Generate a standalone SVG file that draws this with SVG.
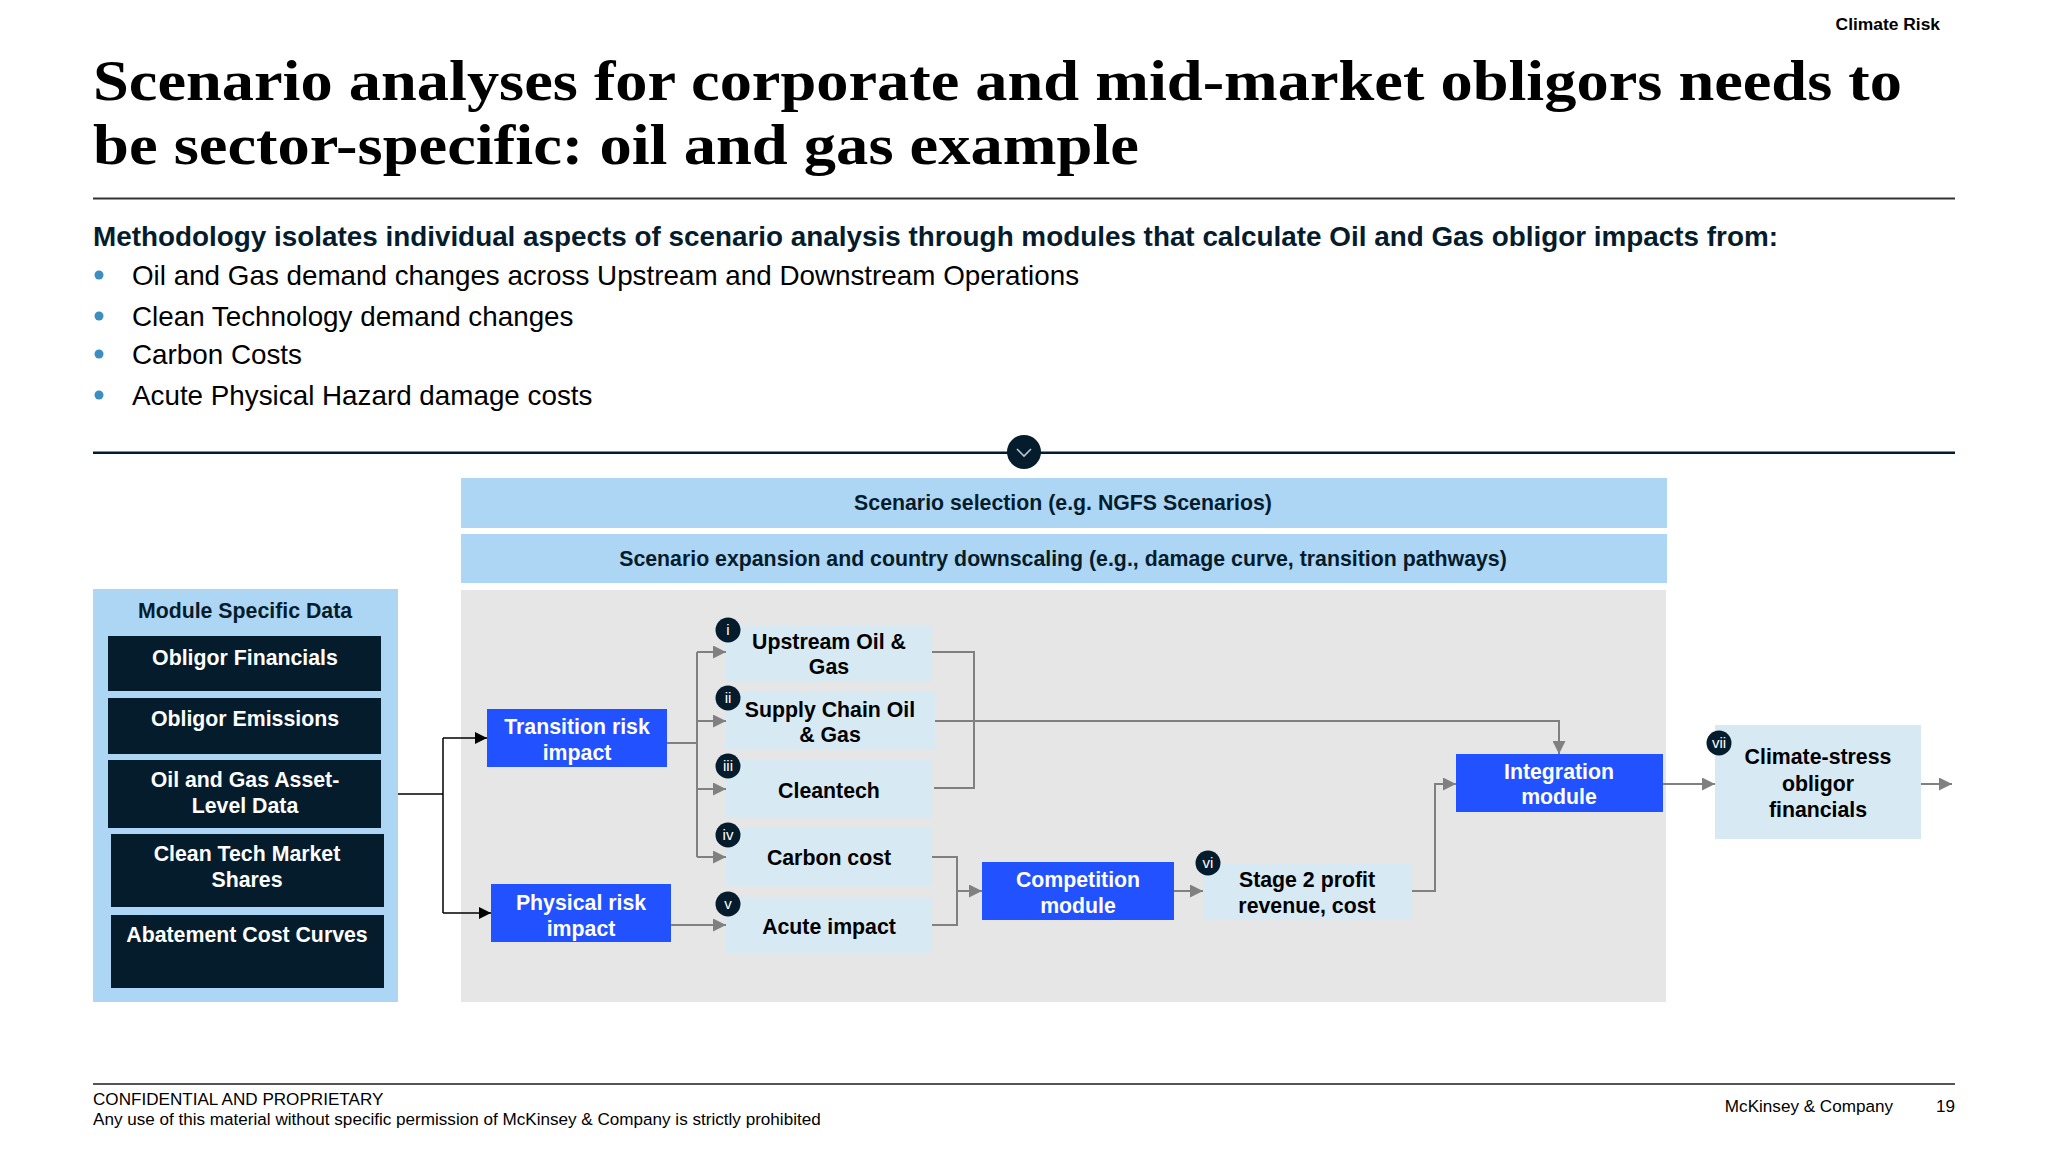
<svg xmlns="http://www.w3.org/2000/svg" width="2048" height="1152" viewBox="0 0 2048 1152">
  <defs>
    <style>
      .sans { font-family: "Liberation Sans", Arial, sans-serif; }
      .title { font-family: "Liberation Serif", "Times New Roman", serif; font-weight: bold; font-size: 57px; fill: #000000; }
      .lightbar { fill: #ADD5F4; }
      .darkbox { fill: #051C2C; }
      .bluebox { fill: #2251FF; }
      .lightbox { fill: #D7E9F2; }
      .wt { font-family: "Liberation Sans", Arial, sans-serif; font-weight: bold; font-size: 21.3px; fill: #FFFFFF; text-anchor: middle; }
      .bt { font-family: "Liberation Sans", Arial, sans-serif; font-weight: bold; font-size: 21.3px; fill: #000000; text-anchor: middle; }
      .bar { font-family: "Liberation Sans", Arial, sans-serif; font-weight: bold; font-size: 21.3px; fill: #051C2C; text-anchor: middle; }
      .bullet { font-family: "Liberation Sans", Arial, sans-serif; font-size: 27.8px; fill: #000000; }
      .dot { fill: #3D8EC0; }
      .badge { fill: #051C2C; }
      .badget { font-family: "Liberation Sans", Arial, sans-serif; font-size: 15px; fill: #FFFFFF; text-anchor: middle; }
      .gline { fill: none; stroke: #808080; stroke-width: 2; }
      .kline { fill: none; stroke: #000000; stroke-width: 1.5; }
      .foot { font-family: "Liberation Sans", Arial, sans-serif; font-size: 17.1px; fill: #000000; }
    </style>
    <marker id="ga" viewBox="0 0 10 10" refX="10" refY="5" markerUnits="userSpaceOnUse" markerWidth="14" markerHeight="13" orient="auto">
      <path d="M0,0 L10,5 L0,10 Z" fill="#808080"/>
    </marker>
    <marker id="ka" viewBox="0 0 10 10" refX="10" refY="5" markerUnits="userSpaceOnUse" markerWidth="13" markerHeight="12" orient="auto">
      <path d="M0,0 L10,5 L0,10 Z" fill="#000000"/>
    </marker>
  </defs>

  <rect width="2048" height="1152" fill="#FFFFFF"/>

  <!-- Header -->
  <text class="sans" x="1940" y="30" font-size="17.4" font-weight="bold" text-anchor="end" fill="#000">Climate Risk</text>
  <text class="title" x="93" y="100" textLength="1809" lengthAdjust="spacingAndGlyphs">Scenario analyses for corporate and mid-market obligors needs to</text>
  <text class="title" x="93" y="164" textLength="1046" lengthAdjust="spacingAndGlyphs">be sector-specific: oil and gas example</text>
  <rect x="93" y="197.5" width="1862" height="2" fill="#333333"/>

  <text class="sans" x="93" y="246" font-size="27" font-weight="bold" fill="#051C2C" textLength="1685" lengthAdjust="spacingAndGlyphs">Methodology isolates individual aspects of scenario analysis through modules that calculate Oil and Gas obligor impacts from:</text>
  <g id="bullets">
    <circle class="dot" cx="99" cy="275" r="4.5"/>
    <text class="bullet" x="132" y="285">Oil and Gas demand changes across Upstream and Downstream Operations</text>
    <circle class="dot" cx="99" cy="316" r="4.5"/>
    <text class="bullet" x="132" y="326">Clean Technology demand changes</text>
    <circle class="dot" cx="99" cy="354" r="4.5"/>
    <text class="bullet" x="132" y="364">Carbon Costs</text>
    <circle class="dot" cx="99" cy="395" r="4.5"/>
    <text class="bullet" x="132" y="405">Acute Physical Hazard damage costs</text>
  </g>

  <rect x="93" y="451.5" width="1862" height="2.5" fill="#051C2C"/>
  <g id="chevron">
    <circle cx="1024" cy="452" r="17" fill="#051C2C"/>
    <path d="M1017,449 L1024,456 L1031,449" fill="none" stroke="#B8C7D6" stroke-width="1.6"/>
  </g>

  <!-- Scenario bars -->
  <g id="scenario-selection">
    <rect class="lightbar" x="461" y="478" width="1206" height="50"/>
    <text class="bar" x="1063" y="510">Scenario selection (e.g. NGFS Scenarios)</text>
  </g>
  <g id="scenario-expansion">
    <rect class="lightbar" x="461" y="534" width="1206" height="49"/>
    <text class="bar" x="1063" y="566">Scenario expansion and country downscaling (e.g., damage curve, transition pathways)</text>
  </g>

  <!-- grey panel -->
  <rect id="panel" x="461" y="590" width="1205" height="412" fill="#E6E6E7"/>

  <!-- Module specific data -->
  <g id="module-data">
    <rect class="lightbar" x="93" y="589" width="305" height="413"/>
    <text class="bar" x="245" y="618" font-size="21.8">Module Specific Data</text>
  </g>
  <g id="obligor-financials">
    <rect class="darkbox" x="108" y="636" width="273" height="55"/>
    <text class="wt" x="245" y="665">Obligor Financials</text>
  </g>
  <g id="obligor-emissions">
    <rect class="darkbox" x="108" y="698" width="273" height="56"/>
    <text class="wt" x="245" y="726">Obligor Emissions</text>
  </g>
  <g id="asset-data">
    <rect class="darkbox" x="108" y="760" width="273" height="68"/>
    <text class="wt" x="245" y="787">Oil and Gas Asset-</text>
    <text class="wt" x="245" y="813">Level Data</text>
  </g>
  <g id="cleantech-shares">
    <rect class="darkbox" x="111" y="834" width="273" height="73"/>
    <text class="wt" x="247" y="861">Clean Tech Market</text>
    <text class="wt" x="247" y="887">Shares</text>
  </g>
  <g id="abatement">
    <rect class="darkbox" x="111" y="915" width="273" height="73"/>
    <text class="wt" x="247" y="942">Abatement Cost Curves</text>
  </g>

  <!-- Connectors -->
  <g id="connectors">
    <path class="kline" d="M398,794 H443"/>
    <path class="kline" d="M443,738 V913"/>
    <path class="kline" d="M443,738 H487" marker-end="url(#ka)"/>
    <path class="kline" d="M443,913 H491" marker-end="url(#ka)"/>

    <path class="gline" d="M667,743 H697"/>
    <path class="gline" d="M697,652 V857"/>
    <path class="gline" d="M697,652 H726" marker-end="url(#ga)"/>
    <path class="gline" d="M697,721 H726" marker-end="url(#ga)"/>
    <path class="gline" d="M697,789 H726" marker-end="url(#ga)"/>
    <path class="gline" d="M697,857 H726" marker-end="url(#ga)"/>
    <path class="gline" d="M671,925 H726" marker-end="url(#ga)"/>

    <path class="gline" d="M932,652 H974 V788 H934"/>
    <path class="gline" d="M935,721 H1559 V754" marker-end="url(#ga)"/>

    <path class="gline" d="M932,857 H957 V925 H932"/>
    <path class="gline" d="M957,891 H982" marker-end="url(#ga)"/>
    <path class="gline" d="M1174,891 H1203" marker-end="url(#ga)"/>
    <path class="gline" d="M1412,891 H1435 V784 H1456" marker-end="url(#ga)"/>
    <path class="gline" d="M1663,784 H1715" marker-end="url(#ga)"/>
    <path class="gline" d="M1921,784 H1952" marker-end="url(#ga)"/>
  </g>

  <!-- Risk impacts -->
  <g id="transition-risk">
    <rect class="bluebox" x="487" y="709" width="180" height="58"/>
    <text class="wt" x="577" y="734">Transition risk</text>
    <text class="wt" x="577" y="760">impact</text>
  </g>
  <g id="physical-risk">
    <rect class="bluebox" x="491" y="884" width="180" height="58"/>
    <text class="wt" x="581" y="910">Physical risk</text>
    <text class="wt" x="581" y="936">impact</text>
  </g>

  <!-- Module boxes -->
  <g id="upstream">
    <rect class="lightbox" x="726" y="625" width="206" height="57"/>
    <text class="bt" x="829" y="649">Upstream Oil &amp;</text>
    <text class="bt" x="829" y="674">Gas</text>
    <circle class="badge" cx="728" cy="630" r="12.5"/>
    <text class="badget" x="728" y="635">i</text>
  </g>
  <g id="supply-chain">
    <rect class="lightbox" x="726" y="692" width="209" height="57"/>
    <text class="bt" x="830" y="717">Supply Chain Oil</text>
    <text class="bt" x="830" y="742">&amp; Gas</text>
    <circle class="badge" cx="728" cy="698" r="12.5"/>
    <text class="badget" x="728" y="703">ii</text>
  </g>
  <g id="cleantech">
    <rect class="lightbox" x="726" y="760" width="206" height="58"/>
    <text class="bt" x="829" y="798">Cleantech</text>
    <circle class="badge" cx="728" cy="766" r="12.5"/>
    <text class="badget" x="728" y="771">iii</text>
  </g>
  <g id="carbon-cost">
    <rect class="lightbox" x="726" y="828" width="206" height="57"/>
    <text class="bt" x="829" y="865">Carbon cost</text>
    <circle class="badge" cx="728" cy="835" r="12.5"/>
    <text class="badget" x="728" y="840">iv</text>
  </g>
  <g id="acute-impact">
    <rect class="lightbox" x="726" y="897" width="206" height="56"/>
    <text class="bt" x="829" y="934">Acute impact</text>
    <circle class="badge" cx="728" cy="904" r="12.5"/>
    <text class="badget" x="728" y="909">v</text>
  </g>
  <g id="competition">
    <rect class="bluebox" x="982" y="862" width="192" height="58"/>
    <text class="wt" x="1078" y="887">Competition</text>
    <text class="wt" x="1078" y="913">module</text>
  </g>
  <g id="stage2">
    <rect class="lightbox" x="1203" y="863" width="209" height="57"/>
    <text class="bt" x="1307" y="887">Stage 2 profit</text>
    <text class="bt" x="1307" y="913">revenue, cost</text>
    <circle class="badge" cx="1208" cy="863" r="12.5"/>
    <text class="badget" x="1208" y="868">vi</text>
  </g>
  <g id="integration">
    <rect class="bluebox" x="1456" y="754" width="207" height="58"/>
    <text class="wt" x="1559" y="779">Integration</text>
    <text class="wt" x="1559" y="804">module</text>
  </g>
  <g id="climate-stress">
    <rect class="lightbox" x="1715" y="725" width="206" height="114"/>
    <text class="bt" x="1818" y="764">Climate-stress</text>
    <text class="bt" x="1818" y="791">obligor</text>
    <text class="bt" x="1818" y="817">financials</text>
    <circle class="badge" cx="1719" cy="743" r="12.5"/>
    <text class="badget" x="1719" y="748">vii</text>
  </g>

  <!-- Footer -->
  <rect x="93" y="1083" width="1862" height="2" fill="#555555"/>
  <text class="foot" x="93" y="1105">CONFIDENTIAL AND PROPRIETARY</text>
  <text class="foot" x="93" y="1125">Any use of this material without specific permission of McKinsey &amp; Company is strictly prohibited</text>
  <text class="foot" x="1893" y="1112" font-size="24" text-anchor="end">McKinsey &amp; Company</text>
  <text class="foot" x="1955" y="1112" font-size="20" text-anchor="end">19</text>
</svg>
